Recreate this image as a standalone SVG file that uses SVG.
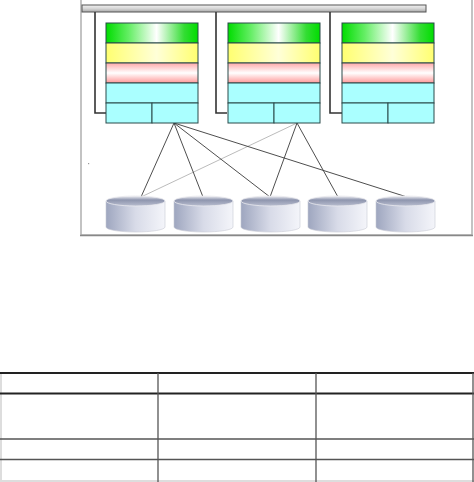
<svg xmlns="http://www.w3.org/2000/svg" width="474" height="482" viewBox="0 0 474 482">
<style>
.cell{stroke:#2a4a4a;stroke-width:1}
.cyan{fill:#aaffff}
.link{stroke:#3a3a3a;stroke-width:0.9;fill:none}
.faint{stroke:#aaaaaa;stroke-width:0.8;fill:none}
.drop{stroke:#333;stroke-width:1.6;fill:none}
.tl{stroke:#555;stroke-width:1.3}
.tk{stroke:#222;stroke-width:2}
</style>
<defs>
<linearGradient id="gG" x1="0" y1="0" x2="1" y2="0">
<stop offset="0" stop-color="#00dd00"/><stop offset="0.25" stop-color="#66ee66"/><stop offset="0.55" stop-color="#ffffff"/><stop offset="0.85" stop-color="#33dd33"/><stop offset="1" stop-color="#00dd00"/>
</linearGradient>
<linearGradient id="gY" x1="0" y1="0" x2="1" y2="0">
<stop offset="0" stop-color="#ffff70"/><stop offset="0.55" stop-color="#ffffd8"/><stop offset="1" stop-color="#ffff70"/>
</linearGradient>
<linearGradient id="gP" x1="0" y1="0" x2="0" y2="1">
<stop offset="0" stop-color="#ffaaaa"/><stop offset="0.5" stop-color="#ffffff"/><stop offset="1" stop-color="#ff9999"/>
</linearGradient>
<linearGradient id="gBar" x1="0" y1="0" x2="0" y2="1">
<stop offset="0" stop-color="#f2f2f2"/><stop offset="0.5" stop-color="#d6d6d6"/><stop offset="1" stop-color="#a8a8a8"/>
</linearGradient>
<linearGradient id="gCyl" x1="0" y1="0" x2="1" y2="0">
<stop offset="0" stop-color="#9ea6bf"/><stop offset="0.5" stop-color="#d8dbe8"/><stop offset="1" stop-color="#f4f5fa"/>
</linearGradient>
<linearGradient id="gTop" x1="0" y1="0" x2="0" y2="1">
<stop offset="0" stop-color="#f0f0f4"/><stop offset="0.4" stop-color="#8e95ae"/><stop offset="1" stop-color="#b8bdcf"/>
</linearGradient>
<g id="server">
<rect x="0" y="0" width="92" height="20" fill="url(#gG)" class="cell"/>
<rect x="0" y="20" width="92" height="20" fill="url(#gY)" class="cell"/>
<rect x="0" y="40" width="92" height="20" fill="url(#gP)" class="cell"/>
<rect x="0" y="60" width="92" height="20" class="cyan cell"/>
<rect x="0" y="80" width="46" height="20" class="cyan cell"/>
<rect x="46" y="80" width="46" height="20" class="cyan cell"/>
</g>
<g id="disk">
<path d="M0,5 L0,31 A29.5,5 0 0 0 59,31 L59,5 Z" fill="url(#gCyl)" stroke="#c8cad4" stroke-width="0.6"/>
<ellipse cx="29.5" cy="5" rx="29.5" ry="5" fill="url(#gTop)" stroke="#e8e8ee" stroke-width="0.8"/>
</g>
</defs>
<rect width="474" height="482" fill="#fff"/>
<g id="frame">
<path d="M81,0 L81,235 L472,235 L472,0" fill="none" stroke="#b0b0b0" stroke-width="1.5"/>
<line x1="80" y1="235.5" x2="473" y2="235.5" stroke="#888" stroke-width="1.6"/>
<rect x="88" y="163" width="1.2" height="1.2" fill="#999"/>
</g>
<g id="bus">
<rect x="82" y="5" width="344" height="7" fill="url(#gBar)" stroke="#555" stroke-width="1"/>
</g>
<g id="connectors">
<path class="drop" d="M95,12 V113 H106"/>
<path class="drop" d="M216,12 V113 H227"/>
<path class="drop" d="M330,12 V113 H342"/>
<line class="faint" x1="297" y1="123" x2="141" y2="197"/>
<line class="link" x1="174" y1="123" x2="141" y2="197"/>
<line class="link" x1="174" y1="123" x2="203" y2="197"/>
<line class="link" x1="174" y1="123" x2="270" y2="197"/>
<line class="link" x1="174" y1="123" x2="407" y2="197"/>
<line class="link" x1="297" y1="123" x2="270" y2="197"/>
<line class="link" x1="297" y1="123" x2="338" y2="197"/>
</g>
<g id="server1"><use href="#server" x="106" y="23"/></g>
<g id="server2"><use href="#server" x="228" y="23"/></g>
<g id="server3"><use href="#server" x="342" y="23"/></g>
<g id="disk1"><use href="#disk" x="106" y="196"/></g>
<g id="disk2"><use href="#disk" x="174" y="196"/></g>
<g id="disk3"><use href="#disk" x="241" y="196"/></g>
<g id="disk4"><use href="#disk" x="308" y="196"/></g>
<g id="disk5"><use href="#disk" x="376" y="196"/></g>
<g id="table">
<rect x="0" y="373" width="2" height="109" fill="#dddddd"/>
<line x1="0" y1="481" x2="474" y2="481" stroke="#dddddd" stroke-width="2"/>
<line class="tk" x1="0" y1="373" x2="474" y2="373"/>
<line class="tk" x1="0" y1="393.5" x2="474" y2="393.5"/>
<line class="tl" x1="0" y1="439" x2="474" y2="439"/>
<line class="tl" x1="0" y1="459.5" x2="474" y2="459.5"/>
<line class="tl" x1="158" y1="373" x2="158" y2="482"/>
<line class="tl" x1="316" y1="373" x2="316" y2="482"/>
<line class="tl" x1="473" y1="373" x2="473" y2="482"/>
</g>
</svg>
